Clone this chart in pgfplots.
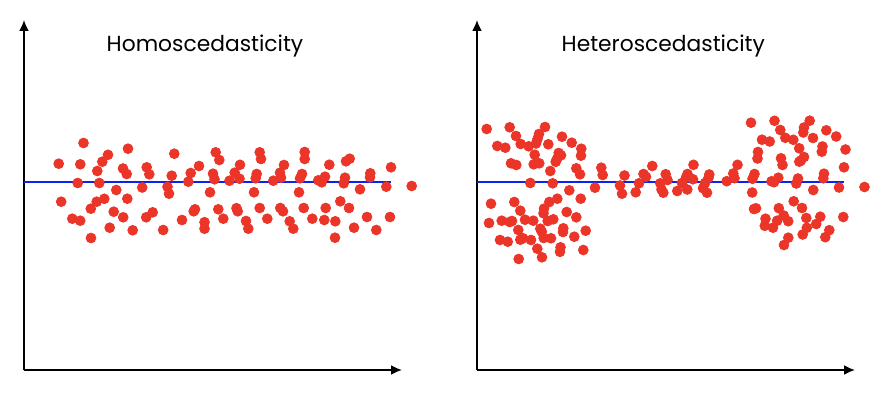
\documentclass[border=0pt]{standalone}
\usepackage{pgfplots}
\pgfplotsset{compat=1.18}
\usepackage{fontspec}
\setmainfont{Poppins}
\usetikzlibrary{arrows.meta}
\definecolor{dotred}{RGB}{234,53,40}
\definecolor{lineblue}{RGB}{10,35,240}
\pgfplotsset{
  panel/.style={
    scale only axis, width=189pt, height=175pt,
    anchor=south west, clip=false,
    ymin=-370, ymax=-20,
    axis x line=bottom, axis y line=left,
    ticks=none,
    axis line style={line width=0.9pt, -{Latex[length=5.5pt,width=5pt]}},
  },
  dots/.style={only marks, mark=*, mark size=2.45pt, color=dotred, mark options={draw=dotred, fill=dotred}},
}
\begin{document}
\begin{tikzpicture}
\useasboundingbox (0,0) rectangle (440pt,196pt);
\begin{axis}[panel, at={(12pt,11pt)}, xmin=24, xmax=402]
\addplot[color=lineblue, line width=1.1pt, mark=none] coordinates {(24,-181.6) (391,-181.6)};
\addplot[dots] table[y expr=-\thisrowno{1}] {
x y
58.7 163.7
83.5 143
80.3 164.3
77.7 183
61.2 201.7
72.3 218.7
80.2 220.7
91 238
90.8 208.7
96.7 201.7
104.3 198.8
99.3 183
97.3 171
102.3 161.7
108 154.8
128 148.7
123 168.5
126.7 174
116.3 190
127.3 198.7
113.7 211.7
123.2 217.3
109.7 227.7
132.7 230.3
146.7 167.3
149.3 174.3
142.2 187.5
152.7 212.3
146.2 217.3
163.2 230
174.3 153.7
171.7 175.7
167.5 186.8
169 193.7
182 220
190.7 173
188.3 181.7
199 166
215.7 152.3
219.3 160
213 173.7
214.5 179.3
210 192.3
195 209.3
193.7 211.3
218.3 209.3
204.5 222.2
204.5 228.7
223.3 218.7
229.5 180.7
234.7 172.7
240 164.8
239.5 178.7
236.5 208.2
237.7 211.3
246 221
248.3 228.7
254 192.3
259.7 152.3
261 159
256.7 174
255.7 178.3
259.7 208
267.3 218.7
273.3 180.7
280 172.7
281 177.7
284 165
280.3 208
283 211.3
289.7 221.3
293.3 228.7
299 192.3
304.7 152
304.7 159
302 174
300 178.3
303.7 208
312.3 218.7
318.3 180.3
321.7 182.3
325 176.7
329.3 164.7
325.7 208
324.3 220
335.3 221.3
335 237.7
340.3 201.3
349 208
343.7 183.3
345 177.7
346 161.3
349.7 158.7
354 227.7
360 189.3
367 217
370.3 173.3
370 177.3
376.3 230
386.3 186.7
391 167.3
390 217
411.7 186
};
\node[anchor=base, font=\fontsize{10.9}{13}\selectfont] at (axis cs:205,-51) {Homoscedasticity};
\end{axis}
\begin{axis}[panel, at={(238.5pt,11pt)}, xmin=477, xmax=855]
\addplot[color=lineblue, line width=1.1pt, mark=none] coordinates {(477,-181.6) (844,-181.6)};
\addplot[dots] table[y expr=-\thisrowno{1}] {
x y
486.7 129
509.7 127.3
516 136
497.3 146
505.3 147.7
520.7 144
528.7 146.3
539 134
537.5 139
536 143.5
545 127
548.3 144.3
562 136.7
571.7 142.7
581.3 148.7
581 155.7
534.7 154.7
558.7 153
561 155.3
557 159
555.7 161.8
511 163.3
516.3 165
533.7 164.3
539.3 163.3
550.3 171
576.3 168.3
580 174.3
601.3 167.7
602.7 175
530.3 183
552.7 183.3
569.3 190.3
595 187.7
491 203.7
514.3 202
520.3 210.7
489 223
501.7 220.7
509.7 222
512 221
525 219.7
533.3 220.7
518.3 230
500 240
507.7 241.7
520.3 239.7
523 238.3
531 240
518.7 259
537.3 248.7
542 257.3
540.3 228.7
541.8 231.7
543.7 238
544 208.7
543.5 213.3
549.3 202
557.3 198.7
547.7 221
553.3 219.3
551 238.3
563.3 228.3
563 232
566.7 212
576.3 217.3
580.7 198.7
585.7 230.7
574.3 236.7
583.3 250
560.5 247.3
560 251.8
624.5 175.5
620 185.5
622 193.7
635.7 192.3
639 183.3
643.5 174
646 176.8
652.3 166
660.3 183.3
661.5 189.5
663.3 192.7
665.7 174.2
667.5 180
677.3 191
682 183
686 177.5
687.5 174
687.3 189.5
693.5 164.8
693 179.3
703 188.2
705 183
707 192.7
709.3 174.5
708.5 177.8
726.7 181.2
733.3 173.5
734.5 178.2
737.5 164.8
751 122.7
774.5 120.8
780.3 130
809.7 120.7
804 127.5
803.3 132.5
826.3 130.3
762 139.7
769.7 141.5
785.3 137.8
793.3 139.8
813 138
836.2 136.5
845.5 149.5
758 152
757.5 158.5
781 158.3
782.5 165
799.2 148.3
822.5 146.5
821.8 151.7
804 157
801 160.5
799.3 161.7
844 167.3
754.5 174
752.5 178.8
778.3 177.7
774 182.2
771.5 181.3
798 178.5
796.3 183.5
824 173.7
823.3 178.3
813.3 190
839 187.5
864.5 187
752.2 192.5
793.7 201.3
802 208
778.8 208.2
756 208.3
754 209
783.7 215.5
788.2 221.2
765.5 218.7
764.8 225.8
777.2 220.7
773 227.7
806.3 218
806.8 227.8
820.3 216.7
816.2 224
843.3 217
829.3 230.2
825.3 237.2
788.3 237.7
784 245
802.7 234.5
};
\node[anchor=base, font=\fontsize{10.9}{13}\selectfont] at (axis cs:663.3,-51) {Heteroscedasticity};
\end{axis}
\end{tikzpicture}
\end{document}
